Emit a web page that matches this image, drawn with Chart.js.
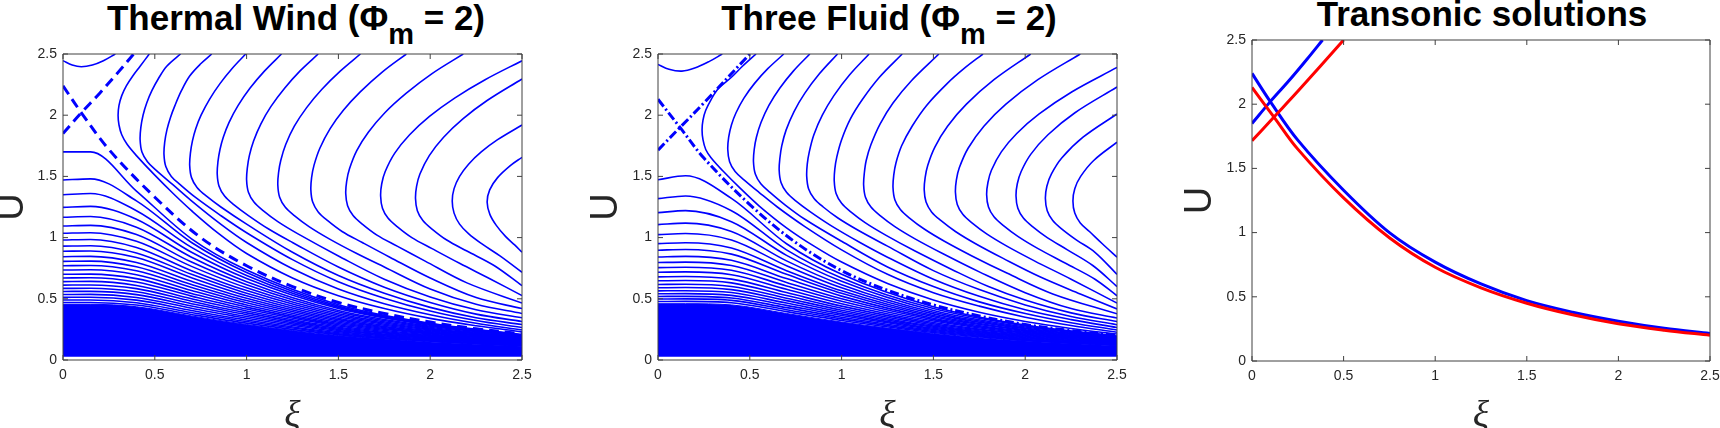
<!DOCTYPE html>
<html>
<head>
<meta charset="utf-8">
<script src="https://cdn.jsdelivr.net/npm/chart.js@4.4.0/dist/chart.umd.min.js"></script>
<style>
html, body { margin: 0; padding: 0; background: #fff; width: 1720px; height: 428px; overflow: hidden; }
.panel { position: absolute; top: 0; height: 428px; }
.ttl { position: absolute; font: bold 35px "Liberation Sans", Arial, sans-serif; line-height: 34px; color: #000; white-space: nowrap; transform: translateX(-50%); }
.ttl .sub { position: relative; top: 14px; font-size: 29px; }
</style>
</head>
<body>
<div class="ttl" style="left:296px;top:1px">Thermal Wind (&Phi;<span class="sub">m</span> = 2)</div>
<div class="ttl" style="left:889px;top:1px">Three Fluid (&Phi;<span class="sub">m</span> = 2)</div>
<div class="ttl" style="left:1482px;top:-3px">Transonic solutions</div>
<div class="panel" style="left:0;width:540px"><canvas id="c1"></canvas></div>
<div class="panel" style="left:580px;width:560px"><canvas id="c2"></canvas></div>
<div class="panel" style="left:1160px;width:580px"><canvas id="c3"></canvas></div>
<script>
'use strict'
// axis ticks, same on all three panels
const xiTicks = [0, 0.5, 1, 1.5, 2, 2.5];
const uTicks = [0, 0.5, 1, 1.5, 2, 2.5];

// transonic solutions [xi, U]  (blue = thermal wind, red = three fluid)
const blueDown = [[0,2.24],[0.1,2.02],[0.25,1.72],[0.5,1.33],[0.75,1.0],[1.0,0.77],[1.25,0.6],[1.5,0.47],[1.75,0.38],[2.0,0.31],[2.25,0.255],[2.5,0.215]];
const blueUp = [[0,1.85],[0.1,2.02],[0.2,2.18],[0.3,2.35],[0.385,2.5]];
const redDown = [[0,2.13],[0.12,1.9],[0.25,1.65],[0.5,1.27],[0.75,0.96],[1.0,0.73],[1.25,0.57],[1.5,0.45],[1.75,0.36],[2.0,0.29],[2.25,0.24],[2.5,0.2]];
const redUp = [[0,1.715],[0.12,1.9],[0.25,2.1],[0.5,2.5]];

// xi positions where the lower contours are read
const lowXi = [0, 0.15, 0.4, 0.7, 1.0, 1.5, 2.0, 2.5];

// ---- thermal wind panel ----
const twCap = [[0,2.445],[0.05,2.41],[0.1,2.396],[0.16,2.41],[0.22,2.445],[0.285,2.5]];
// contours right of the sonic point: entry -> vertex -> exit at the right edge
const twOpen = [
  [[0.47,2.5],[0.42,2.4],[0.38,2.32],[0.345,2.24],[0.32,2.16],[0.305,2.08],[0.30,2.0],[0.305,1.92],[0.32,1.84],[0.35,1.76],[0.4,1.67],[0.5,1.51],[0.6,1.36],[0.7,1.22],[0.85,1.03],[1.0,0.87],[1.25,0.67],[1.5,0.525],[1.75,0.42],[2.0,0.34],[2.25,0.28],[2.5,0.23]],
  [[0.64,2.5],[0.565,2.4],[0.52,2.3],[0.484,2.2],[0.456,2.1],[0.436,2.0],[0.424,1.9],[0.42,1.8],[0.43,1.70],[0.46,1.62],[0.5,1.56],[0.6,1.43],[0.7,1.30],[0.85,1.12],[1.0,0.96],[1.25,0.745],[1.5,0.58],[1.75,0.46],[2.0,0.37],[2.25,0.3],[2.5,0.246]],
  [[0.81,2.5],[0.75,2.42],[0.69,2.32],[0.645,2.2],[0.61,2.08],[0.585,1.98],[0.566,1.88],[0.554,1.78],[0.55,1.68],[0.56,1.58],[0.59,1.5],[0.64,1.43],[0.72,1.33],[0.85,1.19],[1.0,1.04],[1.25,0.82],[1.5,0.64],[1.75,0.505],[2.0,0.40],[2.25,0.322],[2.5,0.265]],
  [[0.995,2.5],[0.92,2.38],[0.856,2.26],[0.798,2.13],[0.752,2.0],[0.723,1.89],[0.705,1.79],[0.694,1.69],[0.69,1.59],[0.70,1.49],[0.73,1.41],[0.78,1.34],[0.86,1.25],[1.0,1.11],[1.25,0.88],[1.5,0.69],[1.75,0.545],[2.0,0.43],[2.25,0.345],[2.5,0.29]],
  [[1.19,2.5],[1.097,2.36],[1.018,2.22],[0.954,2.08],[0.904,1.94],[0.873,1.82],[0.855,1.72],[0.844,1.62],[0.84,1.52],[0.85,1.42],[0.88,1.34],[0.93,1.27],[1.01,1.18],[1.12,1.07],[1.25,0.96],[1.5,0.76],[1.75,0.595],[2.0,0.47],[2.25,0.375],[2.5,0.315]],
  [[1.39,2.5],[1.29,2.36],[1.207,2.22],[1.132,2.07],[1.078,1.93],[1.038,1.79],[1.015,1.67],[1.004,1.57],[1.0,1.47],[1.01,1.37],[1.04,1.29],[1.09,1.22],[1.17,1.13],[1.28,1.03],[1.5,0.85],[1.75,0.66],[2.0,0.515],[2.25,0.41],[2.5,0.345]],
  [[1.62,2.5],[1.51,2.36],[1.409,2.21],[1.326,2.06],[1.26,1.91],[1.213,1.76],[1.186,1.63],[1.174,1.53],[1.17,1.43],[1.18,1.33],[1.21,1.25],[1.26,1.18],[1.34,1.09],[1.45,0.99],[1.6,0.87],[1.75,0.76],[2.0,0.58],[2.25,0.455],[2.5,0.38]],
  [[1.87,2.5],[1.737,2.35],[1.619,2.19],[1.527,2.04],[1.455,1.89],[1.399,1.73],[1.367,1.59],[1.354,1.49],[1.35,1.39],[1.36,1.29],[1.39,1.21],[1.44,1.14],[1.52,1.05],[1.63,0.96],[1.78,0.84],[2.0,0.67],[2.25,0.51],[2.5,0.42]],
  [[2.18,2.5],[2.01,2.34],[1.87,2.18],[1.753,2.02],[1.663,1.86],[1.6,1.71],[1.56,1.56],[1.545,1.46],[1.54,1.36],[1.55,1.26],[1.58,1.18],[1.63,1.11],[1.71,1.02],[1.82,0.93],[1.97,0.81],[2.2,0.63],[2.5,0.465]],
  [[2.5,2.445],[2.299,2.29],[2.133,2.14],[1.996,1.99],[1.888,1.84],[1.807,1.69],[1.755,1.54],[1.736,1.44],[1.73,1.34],[1.74,1.24],[1.77,1.16],[1.82,1.09],[1.9,1.0],[2.01,0.91],[2.16,0.79],[2.33,0.66],[2.5,0.526]],
  [[2.5,2.296],[2.31,2.12],[2.178,1.97],[2.073,1.82],[1.995,1.67],[1.944,1.52],[1.926,1.42],[1.92,1.32],[1.93,1.22],[1.96,1.14],[2.01,1.07],[2.09,0.98],[2.2,0.89],[2.35,0.77],[2.5,0.607]],
  [[2.5,1.92],[2.367,1.8],[2.278,1.7],[2.209,1.6],[2.16,1.5],[2.13,1.4],[2.12,1.30],[2.13,1.2],[2.16,1.11],[2.21,1.03],[2.28,0.95],[2.38,0.85],[2.5,0.716]],
  [[2.5,1.656],[2.438,1.59],[2.367,1.49],[2.324,1.39],[2.31,1.29],[2.325,1.19],[2.36,1.1],[2.41,1.01],[2.46,0.94],[2.5,0.88]]
];
// U of each lower contour at lowXi
const twLow = [
  [1.70,1.70,1.38,0.99,0.735,0.452,0.30,0.208],
  [1.47,1.48,1.30,0.96,0.715,0.44,0.295,0.204],
  [1.35,1.36,1.22,0.92,0.69,0.43,0.29,0.20],
  [1.247,1.255,1.15,0.88,0.665,0.42,0.283,0.196],
  [1.166,1.172,1.085,0.84,0.64,0.405,0.276,0.192],
  [1.095,1.10,1.025,0.80,0.615,0.392,0.268,0.188],
  [1.035,1.04,0.97,0.765,0.59,0.378,0.26,0.184],
  [0.98,0.985,0.92,0.73,0.567,0.365,0.252,0.18],
  [0.93,0.934,0.875,0.70,0.545,0.353,0.245,0.176],
  [0.888,0.891,0.837,0.672,0.525,0.341,0.238,0.172],
  [0.844,0.847,0.797,0.643,0.505,0.33,0.231,0.168],
  [0.806,0.808,0.762,0.617,0.486,0.319,0.224,0.164],
  [0.77,0.772,0.729,0.592,0.468,0.308,0.218,0.16],
  [0.735,0.737,0.697,0.568,0.45,0.298,0.212,0.156],
  [0.70,0.702,0.665,0.544,0.432,0.288,0.205,0.152],
  [0.67,0.672,0.637,0.522,0.416,0.278,0.199,0.148],
  [0.64,0.642,0.609,0.50,0.40,0.268,0.193,0.144],
  [0.612,0.613,0.583,0.48,0.385,0.259,0.187,0.14],
  [0.585,0.586,0.557,0.46,0.37,0.25,0.181,0.136],
  [0.56,0.561,0.534,0.441,0.355,0.241,0.175,0.132],
  [0.535,0.536,0.511,0.423,0.341,0.232,0.169,0.128],
  [0.512,0.513,0.489,0.405,0.327,0.223,0.163,0.124],
  [0.49,0.49,0.468,0.388,0.314,0.215,0.158,0.12],
  [0.47,0.47,0.449,0.372,0.301,0.207,0.153,0.116]
];
const twBand = [0.455,0.455,0.435,0.36,0.29,0.2,0.148,0.112];

// ---- three fluid panel ----
const tfCap = [[0,2.415],[0.06,2.375],[0.13,2.36],[0.2,2.385],[0.28,2.44],[0.35,2.5]];
const tfOpen = [
  [[0.534,2.5],[0.46,2.4],[0.40,2.31],[0.33,2.22],[0.29,2.13],[0.26,2.04],[0.245,1.96],[0.24,1.88],[0.245,1.8],[0.26,1.72],[0.29,1.65],[0.35,1.55],[0.45,1.4],[0.55,1.26],[0.7,1.08],[0.85,0.93],[1.0,0.8],[1.25,0.625],[1.5,0.49],[1.75,0.39],[2.0,0.315],[2.25,0.258],[2.5,0.212]],
  [[0.685,2.5],[0.598,2.38],[0.526,2.26],[0.468,2.14],[0.425,2.02],[0.4,1.92],[0.385,1.82],[0.38,1.72],[0.39,1.62],[0.42,1.54],[0.47,1.47],[0.55,1.37],[0.65,1.25],[0.8,1.09],[1.0,0.9],[1.25,0.7],[1.5,0.55],[1.75,0.44],[2.0,0.35],[2.25,0.282],[2.5,0.227]],
  [[0.827,2.5],[0.737,2.36],[0.663,2.22],[0.604,2.08],[0.561,1.94],[0.536,1.82],[0.524,1.72],[0.52,1.62],[0.53,1.52],[0.56,1.44],[0.61,1.37],[0.69,1.27],[0.8,1.15],[1.0,0.97],[1.25,0.76],[1.5,0.6],[1.75,0.475],[2.0,0.38],[2.25,0.305],[2.5,0.245]],
  [[0.978,2.5],[0.88,2.34],[0.8,2.18],[0.741,2.03],[0.698,1.88],[0.674,1.75],[0.664,1.65],[0.66,1.55],[0.67,1.45],[0.7,1.37],[0.75,1.3],[0.83,1.21],[0.94,1.1],[1.1,0.96],[1.25,0.84],[1.5,0.66],[1.75,0.52],[2.0,0.41],[2.25,0.33],[2.5,0.265]],
  [[1.15,2.5],[1.044,2.33],[0.958,2.16],[0.895,2.0],[0.849,1.84],[0.824,1.7],[0.813,1.6],[0.81,1.5],[0.82,1.4],[0.85,1.32],[0.9,1.25],[0.98,1.16],[1.09,1.06],[1.25,0.93],[1.5,0.73],[1.75,0.575],[2.0,0.45],[2.25,0.355],[2.5,0.288]],
  [[1.33,2.5],[1.206,2.31],[1.114,2.13],[1.048,1.97],[1.0,1.8],[0.974,1.66],[0.963,1.56],[0.96,1.46],[0.97,1.36],[1.0,1.28],[1.05,1.21],[1.13,1.12],[1.24,1.02],[1.4,0.89],[1.6,0.74],[1.8,0.6],[2.0,0.49],[2.25,0.385],[2.5,0.314]],
  [[1.53,2.5],[1.379,2.28],[1.28,2.1],[1.21,1.93],[1.16,1.76],[1.134,1.63],[1.124,1.53],[1.12,1.43],[1.13,1.33],[1.16,1.25],[1.21,1.18],[1.29,1.09],[1.4,0.99],[1.55,0.87],[1.75,0.72],[2.0,0.55],[2.25,0.42],[2.5,0.343]],
  [[1.77,2.5],[1.666,2.38],[1.576,2.26],[1.463,2.08],[1.384,1.91],[1.327,1.75],[1.296,1.61],[1.284,1.51],[1.28,1.41],[1.29,1.31],[1.32,1.23],[1.37,1.16],[1.45,1.07],[1.56,0.97],[1.71,0.85],[1.9,0.71],[2.15,0.54],[2.5,0.377]],
  [[2.03,2.5],[1.83,2.29],[1.68,2.09],[1.577,1.91],[1.508,1.74],[1.469,1.59],[1.455,1.49],[1.45,1.39],[1.46,1.29],[1.49,1.21],[1.54,1.14],[1.62,1.05],[1.73,0.95],[1.88,0.83],[2.08,0.68],[2.3,0.54],[2.5,0.417]],
  [[2.3,2.5],[2.069,2.29],[1.895,2.09],[1.775,1.91],[1.689,1.73],[1.641,1.57],[1.625,1.47],[1.62,1.37],[1.63,1.27],[1.66,1.19],[1.71,1.12],[1.79,1.03],[1.9,0.93],[2.05,0.81],[2.25,0.66],[2.5,0.465]],
  [[2.5,2.39],[2.253,2.19],[2.076,2.01],[1.954,1.85],[1.87,1.7],[1.816,1.55],[1.797,1.45],[1.79,1.35],[1.8,1.25],[1.83,1.17],[1.88,1.1],[1.96,1.01],[2.07,0.91],[2.22,0.79],[2.38,0.66],[2.5,0.525]],
  [[2.5,2.23],[2.271,2.02],[2.124,1.84],[2.03,1.68],[1.978,1.54],[1.957,1.44],[1.95,1.34],[1.96,1.24],[1.99,1.16],[2.04,1.09],[2.12,1.0],[2.23,0.9],[2.37,0.77],[2.5,0.6]],
  [[2.5,2.01],[2.315,1.82],[2.199,1.65],[2.143,1.52],[2.118,1.42],[2.11,1.32],[2.12,1.22],[2.15,1.14],[2.2,1.07],[2.28,0.98],[2.38,0.88],[2.5,0.7]],
  [[2.5,1.78],[2.373,1.63],[2.302,1.5],[2.27,1.4],[2.26,1.30],[2.27,1.2],[2.3,1.12],[2.35,1.05],[2.42,0.95],[2.5,0.84]]
];
const tfLow = [
  [1.473,1.505,1.32,0.95,0.70,0.435,0.285,0.196],
  [1.318,1.34,1.22,0.90,0.67,0.42,0.278,0.192],
  [1.204,1.22,1.13,0.855,0.643,0.405,0.27,0.188],
  [1.106,1.118,1.05,0.81,0.615,0.39,0.262,0.184],
  [1.024,1.033,0.98,0.77,0.59,0.377,0.255,0.18],
  [0.951,0.958,0.915,0.73,0.565,0.364,0.247,0.176],
  [0.897,0.903,0.865,0.70,0.545,0.353,0.24,0.172],
  [0.842,0.847,0.815,0.665,0.522,0.341,0.233,0.168],
  [0.796,0.80,0.772,0.634,0.50,0.33,0.226,0.164],
  [0.755,0.758,0.733,0.605,0.48,0.318,0.219,0.16],
  [0.717,0.72,0.697,0.578,0.46,0.307,0.212,0.156],
  [0.679,0.682,0.661,0.551,0.44,0.296,0.206,0.152],
  [0.647,0.649,0.63,0.527,0.423,0.286,0.20,0.148],
  [0.617,0.619,0.601,0.505,0.407,0.277,0.194,0.144],
  [0.59,0.592,0.575,0.485,0.392,0.268,0.188,0.14],
  [0.565,0.566,0.551,0.465,0.377,0.259,0.182,0.136],
  [0.541,0.542,0.528,0.446,0.363,0.25,0.176,0.132],
  [0.519,0.52,0.507,0.428,0.349,0.241,0.17,0.128],
  [0.498,0.499,0.487,0.411,0.336,0.233,0.165,0.124],
  [0.478,0.479,0.468,0.395,0.323,0.225,0.16,0.12]
];
const tfBand = [0.46,0.46,0.45,0.38,0.31,0.217,0.155,0.116];
const bandFloor = 0.027;

const BLUE = '#0000ff';
const RED = '#ff0000';
const AXIS = '#404040';

let pts = (arr) => arr.map(p => ({x: p[0], y: p[1]}));
let onLowXi = (vals) => lowXi.map((x, i) => ({x: x, y: vals[i]}));

function line(data, color, width, dash) {
  return {
    data: data, showLine: true, borderColor: color, borderWidth: width,
    borderDash: dash || [], pointRadius: 0, tension: 0.35, fill: false
  };
}
function lowLine(vals, width) {
  let d = line(onLowXi(vals), BLUE, width);
  d.cubicInterpolationMode = 'monotone';
  return d;
}

// box with ticks pointing inwards, drawn over the curves
const boxTicks = {
  id: 'boxTicks',
  afterDatasetsDraw(chart) {
    const ctx = chart.ctx;
    const a = chart.chartArea;
    const sx = chart.scales.x, sy = chart.scales.y;
    ctx.save();
    ctx.strokeStyle = AXIS;
    ctx.lineWidth = 1;
    ctx.beginPath();
    xiTicks.forEach(v => {
      let px = sx.getPixelForValue(v);
      ctx.moveTo(px, a.bottom); ctx.lineTo(px, a.bottom - 5);
      ctx.moveTo(px, a.top); ctx.lineTo(px, a.top + 5);
    });
    uTicks.forEach(v => {
      let py = sy.getPixelForValue(v);
      ctx.moveTo(a.left, py); ctx.lineTo(a.left + 5, py);
      ctx.moveTo(a.right, py); ctx.lineTo(a.right - 5, py);
    });
    ctx.rect(a.left, a.top, a.right - a.left, a.bottom - a.top);
    ctx.stroke();
    ctx.restore();
  }
};

function makePanel(id, datasets, lay) {
  let tickFont = {family: '"Liberation Sans", Arial, sans-serif', size: 14};
  return new Chart(document.getElementById(id), {
    type: 'scatter',
    data: {datasets: datasets},
    plugins: [boxTicks],
    options: {
      responsive: true, maintainAspectRatio: false, animation: false,
      events: [],
      layout: {padding: {left: 0, top: lay.top, right: lay.right, bottom: 0}},
      plugins: {legend: {display: false}, tooltip: {enabled: false}, title: {display: false}},
      scales: {
        x: {
          type: 'linear', min: 0, max: 2.5,
          afterBuildTicks: s => { s.ticks = xiTicks.map(v => ({value: v})); },
          afterFit: s => { s.height = lay.xh; },
          grid: {display: false, drawTicks: false}, border: {display: false},
          ticks: {color: '#262626', font: tickFont, padding: 7, maxRotation: 0, callback: v => String(v)},
          title: {display: true, text: 'ξ', color: '#262626',
            font: {family: '"Liberation Serif", "DejaVu Serif", serif', style: 'italic', size: 38, lineHeight: 1},
            padding: {top: 0, bottom: -8}}
        },
        y: {
          type: 'linear', min: 0, max: 2.5,
          afterBuildTicks: s => { s.ticks = uTicks.map(v => ({value: v})); },
          afterFit: s => { s.width = lay.yw; },
          grid: {display: false, drawTicks: false}, border: {display: false},
          ticks: {color: '#262626', font: tickFont, padding: 6, callback: v => String(v)},
          title: {display: true, text: 'U', color: '#262626',
            font: {family: '"Liberation Sans", Arial, sans-serif', size: 38, lineHeight: 1},
            padding: {top: lay.uPad, bottom: 0}}
        }
      }
    }
  });
}

// first dataset is drawn on top
let twSets = [line(pts(blueDown), BLUE, 3, [10, 6]), line(pts(blueUp), BLUE, 3, [10, 6]), line(pts(twCap), BLUE, 1.6)];
twOpen.forEach(c => twSets.push(line(pts(c), BLUE, 1.6)));
twLow.forEach(v => twSets.push(lowLine(v, 1.6)));
twSets.push(Object.assign(lowLine(twBand, 1), {fill: {value: bandFloor}, backgroundColor: BLUE}));

let tfSets = [line(pts(redDown), BLUE, 3, [9, 3, 2, 3]), line(pts(redUp), BLUE, 3, [9, 3, 2, 3]), line(pts(tfCap), BLUE, 1.6)];
tfOpen.forEach(c => tfSets.push(line(pts(c), BLUE, 1.6)));
tfLow.forEach(v => tfSets.push(lowLine(v, 1.6)));
tfSets.push(Object.assign(lowLine(tfBand, 1), {fill: {value: bandFloor}, backgroundColor: BLUE}));

let tsSets = [
  line(pts(redDown), RED, 3), line(pts(redUp), RED, 3),
  line(pts(blueDown), BLUE, 3), line(pts(blueUp), BLUE, 3)
];

makePanel('c1', twSets, {top: 54, right: 18, xh: 68, yw: 63, uPad: -6});
makePanel('c2', tfSets, {top: 54, right: 23, xh: 68, yw: 78, uPad: 8});
makePanel('c3', tsSets, {top: 40, right: 30, xh: 67, yw: 92, uPad: 22});
</script>
</body>
</html>
